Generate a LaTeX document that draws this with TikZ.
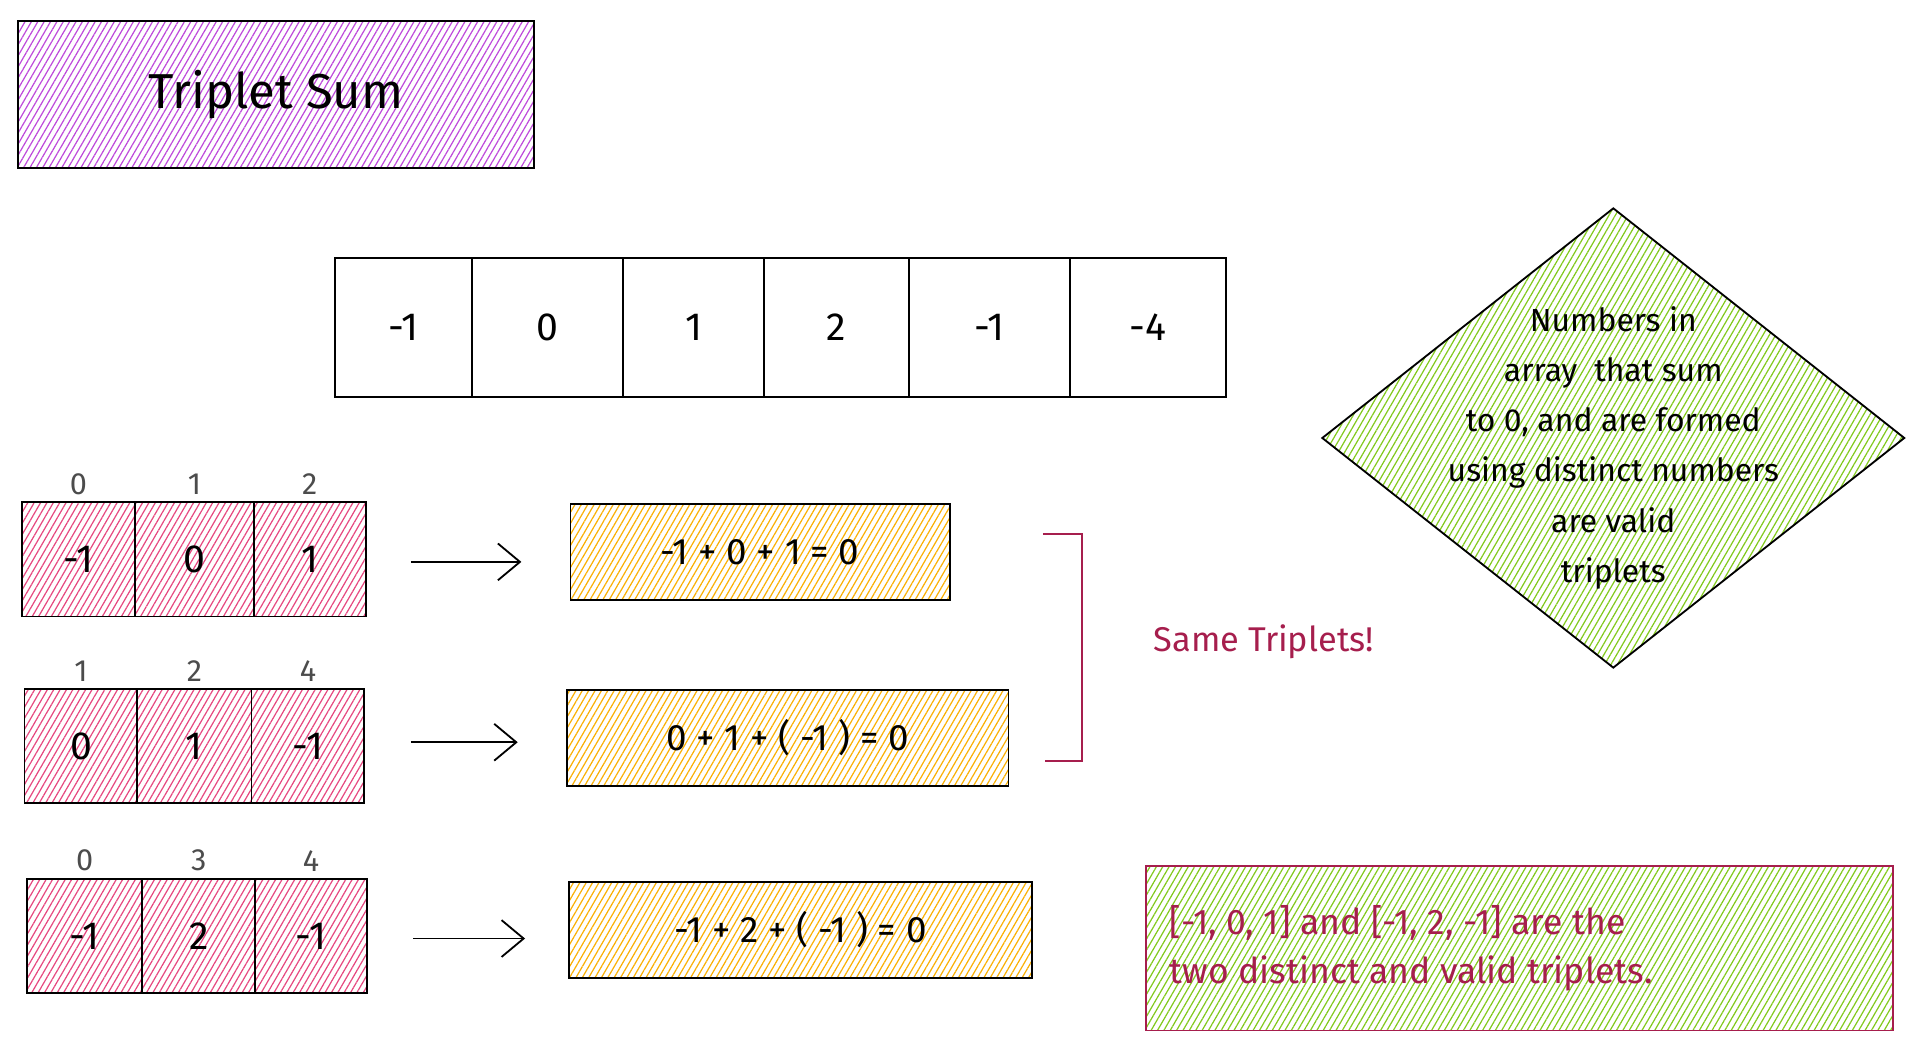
\documentclass[tikz,border=0pt]{standalone}
\usepackage{fontspec}
\setmainfont{Fira Sans}
\usetikzlibrary{shapes.geometric,patterns.meta,arrows.meta}
\definecolor{lila}{HTML}{BE4BDB}
\definecolor{rosa}{HTML}{E64980}
\definecolor{gelb}{HTML}{FAB005}
\definecolor{gruen}{HTML}{82C91E}
\definecolor{weinrot}{HTML}{A61E4D}

\begin{document}
\begin{tikzpicture}[x=1pt,y=-1pt,
	schraffur/.style = {pattern={Lines[angle=60,distance=4.5pt,line width=1pt]}, pattern color=#1},
	cell/.style = {draw, line width=1.5pt, minimum height=93pt, inner sep=0pt, font=\fontsize{32}{38}\selectfont},
	pinkcell/.style = {cell, schraffur=rosa},
	sumbox/.style = {draw, line width=1.5pt, minimum height=78pt, inner sep=0pt, font=\fontsize{30}{36}\selectfont, schraffur=gelb},
	idx/.style = {font=\fontsize{25}{28}\selectfont, text=black!70},
	pfeil/.style = {line width=1.5pt, -{Straight Barb[length=18pt,width=30pt,line width=1.5pt]}}]
		\useasboundingbox (0,0) rectangle (1565,854);
		% Titel
		\node[draw, line width=1.5pt, minimum width=420pt, minimum height=120pt, schraffur=lila, font=\fontsize{40}{46}\selectfont] (titel) at (225,77) {Triplet Sum};
		% Feld
		\node[cell, minimum width=112pt, minimum height=113pt] (a0) at (329,267) {-1};
		\node[cell, minimum width=123pt, minimum height=113pt] (a1) at (446.5,267) {0};
		\node[cell, minimum width=115pt, minimum height=113pt] (a2) at (565.5,267) {1};
		\node[cell, minimum width=118pt, minimum height=113pt] (a3) at (682,267) {2};
		\node[cell, minimum width=131pt, minimum height=113pt] (a4) at (806.5,267) {-1};
		\node[cell, minimum width=127pt, minimum height=113pt] (a5) at (935.5,267) {-4};
		% Raute
		\node[diamond, draw, line width=1.5pt, minimum width=475pt, minimum height=375pt, inner sep=0pt, schraffur=gruen] (raute) at (1315,357) {};
		\node[align=center, font=\fontsize{26}{41}\selectfont] (rautetext) at (1315,365) {Numbers in\\array \ that sum\\to 0, and are formed\\using distinct numbers\\are valid\\triplets};
		% Zeile 1
		\node[pinkcell, minimum width=92pt] (p00) at (64,456) {-1};
		\node[pinkcell, minimum width=97pt] (p01) at (158.5,456) {0};
		\node[pinkcell, minimum width=91pt] (p02) at (252.5,456) {1};
		\node[idx, above=2pt] (i00) at (p00.north) {0};
		\node[idx, above=2pt] (i01) at (p01.north) {1};
		\node[idx, above=2pt] (i02) at (p02.north) {2};
		\node[sumbox, minimum width=309pt] (s0) at (619.5,450) {-1 + 0 + 1 = 0};
		% Zeile 2
		\node[pinkcell, minimum width=92pt] (p10) at (66,608) {0};
		\node[pinkcell, minimum width=93pt] (p11) at (158.5,608) {1};
		\node[pinkcell, minimum width=92pt] (p12) at (251,608) {-1};
		\node[idx, above=2pt] (i10) at (p10.north) {1};
		\node[idx, above=2pt] (i11) at (p11.north) {2};
		\node[idx, above=2pt] (i12) at (p12.north) {4};
		\node[sumbox, minimum width=360pt] (s1) at (642,601.5) {0 + 1 + ( -1 ) = 0};
		% Zeile 3
		\node[pinkcell, minimum width=94pt] (p20) at (69,763) {-1};
		\node[pinkcell, minimum width=92pt] (p21) at (162,763) {2};
		\node[pinkcell, minimum width=91pt] (p22) at (253.5,763) {-1};
		\node[idx, above=2pt] (i20) at (p20.north) {0};
		\node[idx, above=2pt] (i21) at (p21.north) {3};
		\node[idx, above=2pt] (i22) at (p22.north) {4};
		\node[sumbox, minimum width=377pt] (s2) at (652.5,758) {-1 + 2 + ( -1 ) = 0};
		% Pfeile
		\coordinate (q0a) at (335,458); \coordinate (q0b) at (425,458);
		\coordinate (q1a) at (335,605); \coordinate (q1b) at (422,605);
		\coordinate (q2a) at (337,765); \coordinate (q2b) at (428,765);
		\draw[pfeil] (q0a) -- (q0b);
		\draw[pfeil] (q1a) -- (q1b);
		\draw[pfeil] (q2a) -- (q2b);
		% Klammer
		\coordinate (k0) at (850,435); \coordinate (k1) at (882,435);
		\coordinate (k2) at (882,620); \coordinate (k3) at (852,620);
		\draw[weinrot, line width=1.5pt] (k0) -- (k1) -- (k2) -- (k3);
		\node[text=weinrot, font=\fontsize{28}{32}\selectfont] (gleich) at (1030,523) {Same Triplets!};
		% Ergebnis
		\node[draw=weinrot, line width=1.5pt, minimum width=609pt, minimum height=134pt, schraffur=gruen] (erg) at (1238.5,773) {};
		\node[text=weinrot, align=left, anchor=west, font=\fontsize{29}{40}\selectfont] (ergtext) at (950,773) {[-1, 0, 1] and [-1, 2, -1] are the\\two distinct and valid triplets.};
\end{tikzpicture}
\end{document}
